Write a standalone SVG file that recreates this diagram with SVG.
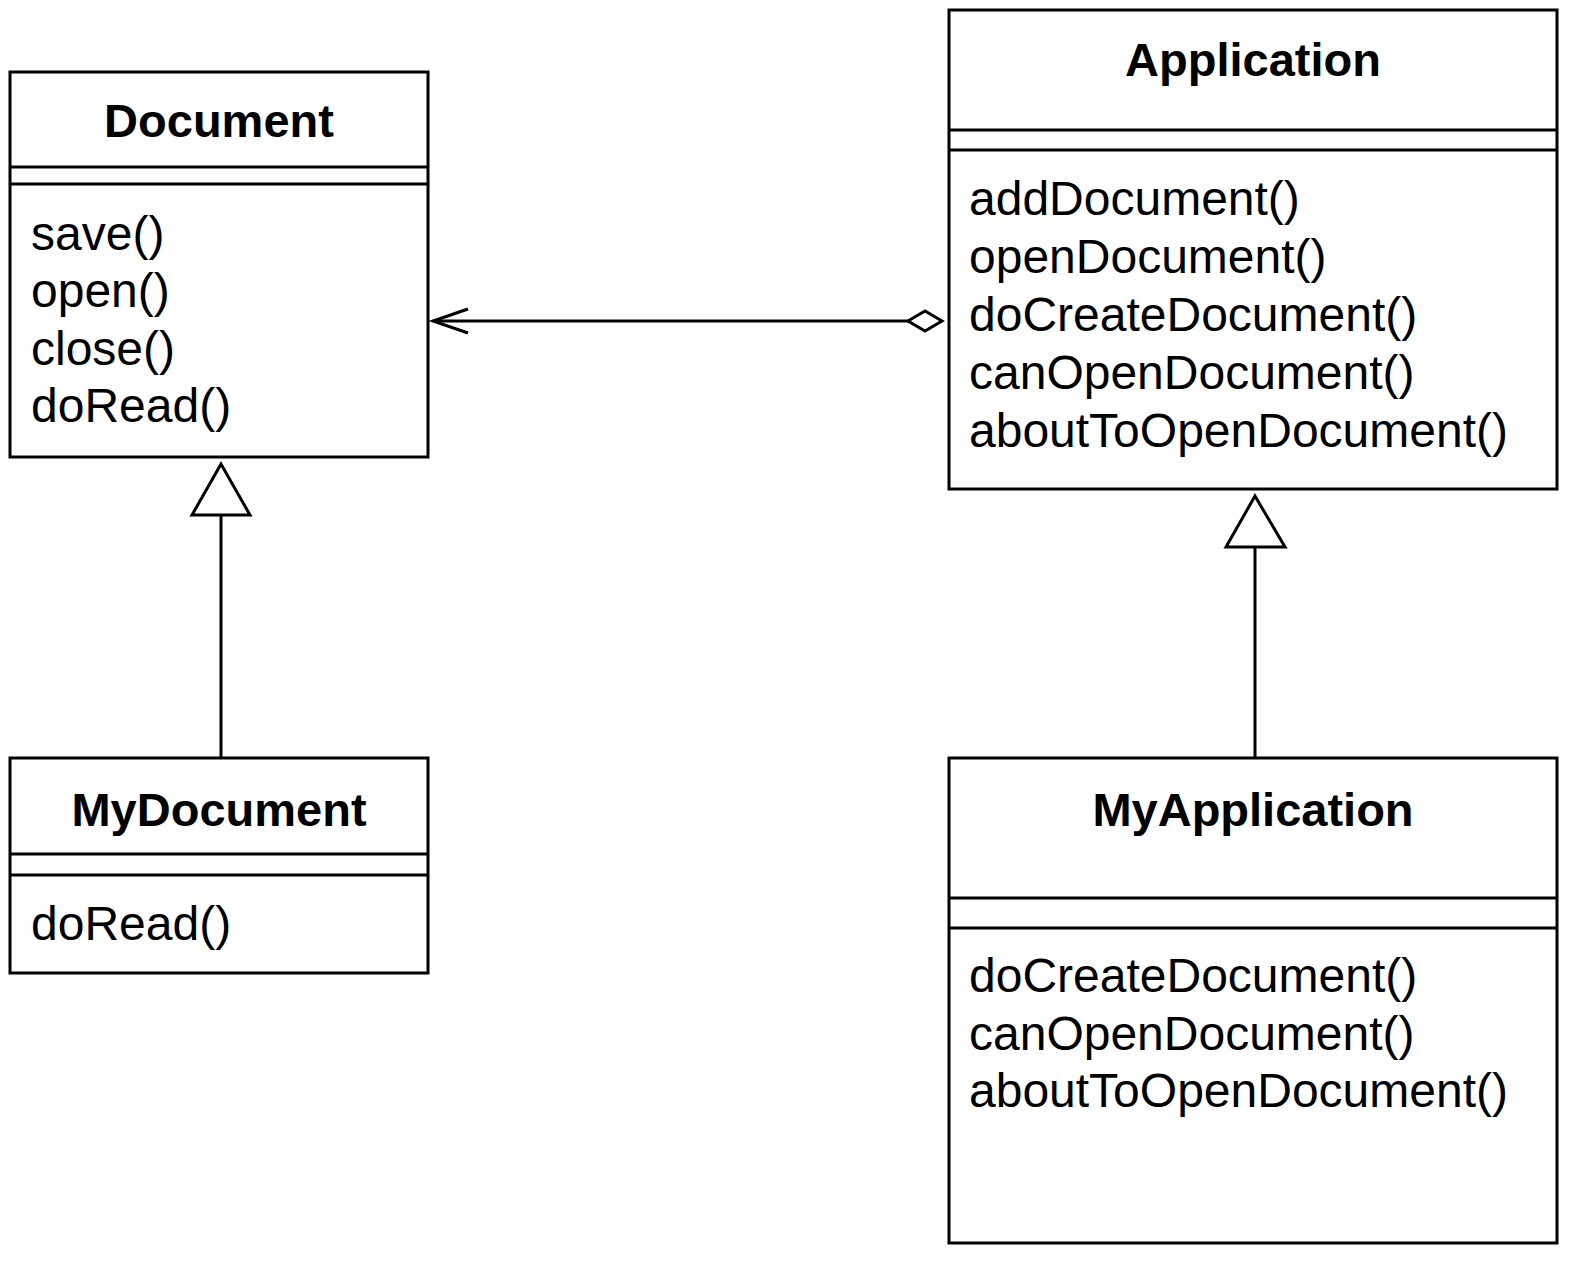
<svg xmlns="http://www.w3.org/2000/svg" width="1579" height="1262" viewBox="0 0 1579 1262">
<style>
.b{fill:#fff;stroke:#000;stroke-width:3}
.l{stroke:#000;stroke-width:3;fill:none}
text{font-family:"Liberation Sans",Arial,sans-serif;font-size:48px;fill:#000}
.t{font-weight:bold;text-anchor:middle;font-size:47px}
</style>
<g id="connectors">
<line class="l" x1="433" y1="321" x2="908" y2="321"/>
<polyline class="l" points="468,309 433,321 468,333"/>
<polygon class="b" points="908,321 925,311 942,321 925,331"/>
<line class="l" x1="221" y1="515" x2="221" y2="758"/>
<polygon class="b" points="221,464 192,515 250,515"/>
<line class="l" x1="1255" y1="547" x2="1255" y2="758"/>
<polygon class="b" points="1255,496 1226,547 1285,547"/>
</g>
<g id="Document">
<rect class="b" x="10" y="72" width="418" height="385"/>
<line class="l" x1="10" y1="167" x2="428" y2="167"/><line class="l" x1="10" y1="184" x2="428" y2="184"/>
<text class="t" x="219" y="137">Document</text>
<text x="31" y="250">save()</text><text x="31" y="307">open()</text><text x="31" y="365">close()</text><text x="31" y="422">doRead()</text>
</g>
<g id="Application">
<rect class="b" x="949" y="10" width="608" height="479"/>
<line class="l" x1="949" y1="130" x2="1557" y2="130"/><line class="l" x1="949" y1="150" x2="1557" y2="150"/>
<text class="t" x="1253" y="76">Application</text>
<text x="969" y="215">addDocument()</text><text x="969" y="273">openDocument()</text><text x="969" y="331">doCreateDocument()</text><text x="969" y="389">canOpenDocument()</text><text x="969" y="447">aboutToOpenDocument()</text>
</g>
<g id="MyDocument">
<rect class="b" x="10" y="758" width="418" height="215"/>
<line class="l" x1="10" y1="854" x2="428" y2="854"/><line class="l" x1="10" y1="875" x2="428" y2="875"/>
<text class="t" x="219" y="826">MyDocument</text>
<text x="31" y="940">doRead()</text>
</g>
<g id="MyApplication">
<rect class="b" x="949" y="758" width="608" height="485"/>
<line class="l" x1="949" y1="898" x2="1557" y2="898"/><line class="l" x1="949" y1="928" x2="1557" y2="928"/>
<text class="t" x="1253" y="826">MyApplication</text>
<text x="969" y="992">doCreateDocument()</text><text x="969" y="1050">canOpenDocument()</text><text x="969" y="1107">aboutToOpenDocument()</text>
</g>
</svg>
